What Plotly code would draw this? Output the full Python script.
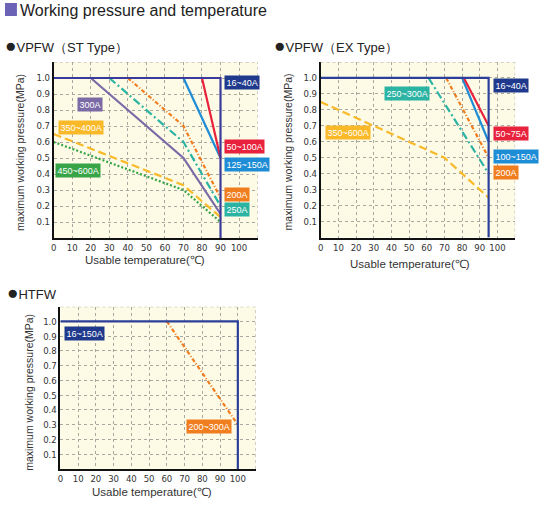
import plotly.graph_objects as go

W, H = 540, 523

# ---------------- data: VPFW (ST Type) ----------------
st_16_40_x = [0, 90, 90]
st_16_40_y = [1.0, 1.0, 0.0]
st_50_100_x = [80, 90]
st_50_100_y = [1.0, 0.5]
st_125_150_x = [70, 90]
st_125_150_y = [1.0, 0.5]
st_200_x = [40, 70, 90]
st_200_y = [1.0, 0.7, 0.25]
st_250_x = [30, 70, 90]
st_250_y = [1.0, 0.6, 0.2]
st_300_x = [20, 70, 90]
st_300_y = [1.0, 0.5, 0.15]
st_350_400_x = [0, 70, 90]
st_350_400_y = [0.65, 0.33, 0.13]
st_450_600_x = [0, 70, 90]
st_450_600_y = [0.6, 0.3, 0.1]

# ---------------- data: VPFW (EX Type) ----------------
ex_16_40_x = [0, 95, 95]
ex_16_40_y = [1.0, 1.0, 0.0]
ex_50_75_x = [81, 95]
ex_50_75_y = [1.0, 0.7]
ex_100_150_x = [80, 95]
ex_100_150_y = [1.0, 0.6]
ex_200_x = [71, 95]
ex_200_y = [1.0, 0.5]
ex_250_300_x = [61, 95]
ex_250_300_y = [1.0, 0.4]
ex_350_600_x = [0, 70, 95]
ex_350_600_y = [0.85, 0.5, 0.25]

# ---------------- data: HTFW ----------------
ht_16_150_x = [0, 100, 100]
ht_16_150_y = [1.0, 1.0, 0.0]
ht_200_300_x = [60, 100]
ht_200_300_y = [1.0, 0.3]

# ticks
x_tick_vals = [0, 10, 20, 30, 40, 50, 60, 70, 80, 90, 100]
x_tick_text = ["0", "10", "20", "30", "40", "50", "60", "70", "80", "90", "100"]
y_tick_vals = [0.1, 0.2, 0.3, 0.4, 0.5, 0.6, 0.7, 0.8, 0.9, 1.0]
y_tick_text = ["0.1", "0.2", "0.3", "0.4", "0.5", "0.6", "0.7", "0.8", "0.9", "1.0"]

# colours
NAVY = "#2b3f9a"
NAVY_ST = "#3a3a9c"
RED = "#e8223c"
LBLUE = "#1e8dd6"
ORANGE = "#f07d1e"
TEAL = "#2bb3a3"
PURPLE = "#7a6aa6"
YELLOW = "#f9b928"
GREEN = "#36a447"

DASH_OR = "4px,2px,1px,2px"
DASH_TE = "8px,3px,2px,3px"
DASH_YE = "8px,4px"
DASH_GR = "2px,2px"

fig = go.Figure()

def add_line(xs, ys, color, dash, axis, width=2.2):
    fig.add_trace(go.Scatter(
        x=xs, y=ys, mode="lines", xaxis="x" + axis, yaxis="y" + axis,
        line=dict(color=color, width=width, dash=dash),
        hoverinfo="skip", showlegend=False, cliponaxis=False))

# ST chart
add_line(st_450_600_x, st_450_600_y, GREEN, DASH_GR, "")
add_line(st_350_400_x, st_350_400_y, YELLOW, DASH_YE, "")
add_line(st_300_x, st_300_y, PURPLE, "solid", "")
add_line(st_250_x, st_250_y, TEAL, DASH_TE, "")
add_line(st_200_x, st_200_y, ORANGE, DASH_OR, "")
add_line(st_125_150_x, st_125_150_y, LBLUE, "solid", "")
add_line(st_50_100_x, st_50_100_y, RED, "solid", "")
add_line(st_16_40_x, st_16_40_y, NAVY_ST, "solid", "")

# EX chart
add_line(ex_350_600_x, ex_350_600_y, YELLOW, DASH_YE, "2")
add_line(ex_250_300_x, ex_250_300_y, TEAL, DASH_TE, "2")
add_line(ex_200_x, ex_200_y, ORANGE, DASH_OR, "2")
add_line(ex_100_150_x, ex_100_150_y, LBLUE, "solid", "2")
add_line(ex_50_75_x, ex_50_75_y, RED, "solid", "2")
add_line(ex_16_40_x, ex_16_40_y, NAVY, "solid", "2")

# HTFW chart
add_line(ht_200_300_x, ht_200_300_y, ORANGE, DASH_OR, "3")
add_line(ht_16_150_x, ht_16_150_y, NAVY, "solid", "3")

TICKFONT = dict(family="DejaVu Sans Condensed, Liberation Sans, Arial", size=9.5, color="#333")
GRID = "#a8a8a0"

def xax(dom, anchor):
    return dict(domain=dom, anchor=anchor, range=[0, 110], tickvals=x_tick_vals, ticktext=x_tick_text,
                showgrid=True, gridcolor=GRID, griddash="dot", gridwidth=1, zeroline=False,
                showline=True, linecolor="#111", linewidth=1.5, ticks="", tickfont=TICKFONT,
                fixedrange=True)

def yax(dom, anchor):
    return dict(domain=dom, anchor=anchor, range=[0, 1.1], tickvals=y_tick_vals, ticktext=y_tick_text,
                showgrid=True, gridcolor=GRID, griddash="dot", gridwidth=1, zeroline=False,
                showline=True, linecolor="#111", linewidth=1.5, ticks="", tickfont=TICKFONT,
                fixedrange=True)

def px_x(a, b):
    return [a / W, b / W]

def px_y(top, bottom):
    return [1 - bottom / H, 1 - top / H]

fig.update_layout(
    width=W, height=H, margin=dict(l=0, r=0, t=0, b=0),
    paper_bgcolor="white", plot_bgcolor="#fdfbe6",
    xaxis=xax(px_x(51, 256), "y"), yaxis=yax(px_y(62, 238), "x"),
    xaxis2=xax(px_x(319.5, 515), "y2"), yaxis2=yax(px_y(62, 237.5), "x2"),
    xaxis3=xax(px_x(57.7, 254), "y3"), yaxis3=yax(px_y(306.7, 469), "x3"),
    showlegend=False,
)

# dotted edge gridlines at the far ends of ranges
shapes = []
for ax in ["", "2", "3"]:
    shapes.append(dict(type="line", xref="x" + ax, yref="y" + ax + " domain", x0=110, x1=110, y0=0, y1=1,
                       line=dict(color=GRID, width=1, dash="dot")))
    shapes.append(dict(type="line", xref="x" + ax + " domain", yref="y" + ax, x0=0, x1=1, y0=1.1, y1=1.1,
                       line=dict(color=GRID, width=1, dash="dot")))
# title square
shapes.append(dict(type="rect", xref="paper", yref="paper", x0=2 / W, x1=14 / W,
                   y0=1 - 16 / H, y1=1 - 3 / H, fillcolor="#6b63b5", line=dict(width=0)))
fig.update_layout(shapes=shapes)

LABFONT = "Liberation Sans, Arial"
ann = []

def tag(text, x, y, color, axis, anchor="left"):
    ann.append(dict(text=text, x=x, y=y, xref="x" + axis, yref="y" + axis, xanchor=anchor, yanchor="middle",
                    showarrow=False, bgcolor=color, borderpad=1.5,
                    font=dict(family=LABFONT, size=9, color="white")))

# ST labels
tag("16~40A", 91.8, 0.975, "#1f3a8c", "")
tag("300A", 19.7, 0.835, PURPLE, "", "center")
tag("350~400A", 14.6, 0.69, YELLOW, "", "center")
tag("450~600A", 13, 0.42, GREEN, "", "center")
tag("50~100A", 91.8, 0.57, RED, "")
tag("125~150A", 91.8, 0.46, LBLUE, "")
tag("200A", 91.8, 0.27, ORANGE, "")
tag("250A", 91.8, 0.18, TEAL, "")
# EX labels
tag("16~40A", 97.2, 0.955, "#1f3a8c", "2")
tag("250~300A", 49, 0.905, TEAL, "2", "center")
tag("350~600A", 15.4, 0.66, YELLOW, "2", "center")
tag("50~75A", 97.2, 0.65, RED, "2")
tag("100~150A", 97.2, 0.51, LBLUE, "2")
tag("200A", 97.2, 0.41, ORANGE, "2")
# HTFW labels
tag("16~150A", 13.8, 0.92, "#1f3a8c", "3", "center")
tag("200~300A", 83.9, 0.29, ORANGE, "3", "center")

TXT = "#333333"
def ptext(text, x, y, size, xanchor="left", angle=0, yanchor="middle", color=TXT):
    ann.append(dict(text=text, x=x / W, y=1 - y / H, xref="paper", yref="paper", xanchor=xanchor,
                    yanchor=yanchor, showarrow=False, textangle=angle,
                    font=dict(family="Liberation Sans, Arial", size=size, color=color)))

BUL = "<span style='font-size:19px'>●</span>"
ptext("Working pressure and temperature", 15, 10, 16, color="#222")
ptext(BUL + "VPFW（ST Type）", 0, 45, 13, color="#222")
ptext(BUL + "VPFW（EX Type）", 270, 45, 13, color="#222")
ptext(BUL + "HTFW", 2, 292, 13, color="#222")
ptext("maximum working pressure(MPa)", 17, 152, 10.5, "center", -90)
ptext("maximum working pressure(MPa)", 287, 152, 10.5, "center", -90)
ptext("maximum working pressure(MPa)", 26, 392, 10.5, "center", -90)
ptext("Usable temperature(℃)", 143, 260, 11.5, "center")
ptext("Usable temperature(℃)", 409, 264, 11.5, "center")
ptext("Usable temperature(℃)", 150, 492, 11.5, "center")

fig.update_layout(annotations=ann)

fig.write_html("out.html", config={"displayModeBar": False},
               post_script="document.body.style.margin='0';document.body.style.padding='0';")
